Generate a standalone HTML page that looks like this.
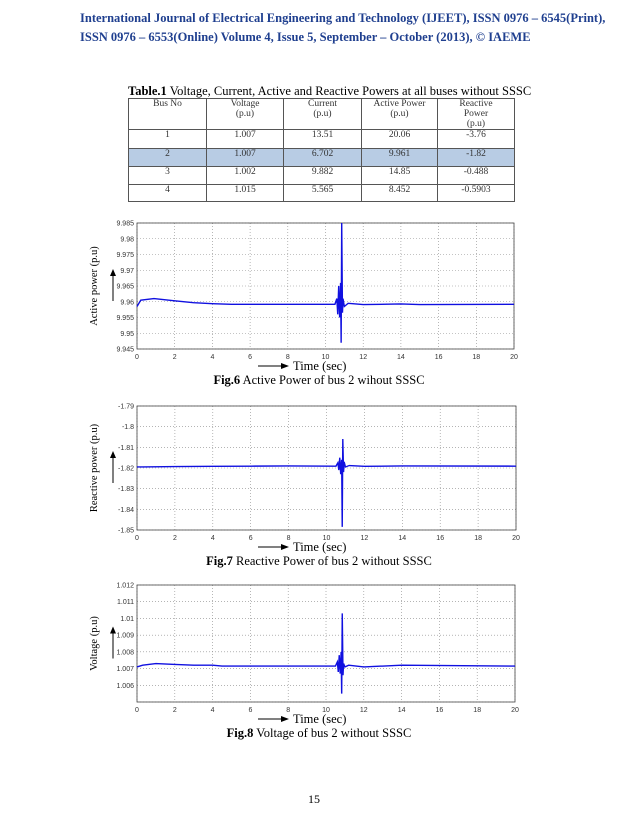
<!DOCTYPE html>
<html><head><meta charset="utf-8"><style>
body{margin:0;width:638px;height:826px;background:#fff;position:relative;overflow:hidden;font-family:"Liberation Serif",serif}
.hd{position:absolute;left:80px;color:#1f3f8f;font-weight:bold;font-size:12.5px;white-space:nowrap}
table{position:absolute;left:128px;top:98px;width:386px;border-collapse:collapse;font-size:9.5px;color:#333;table-layout:fixed}
td{border:1px solid #555;text-align:center;padding:0;line-height:10px;vertical-align:top}
</style></head><body>
<div class="hd" style="top:11px">International Journal of Electrical Engineering and Technology (IJEET), ISSN 0976 – 6545(Print),</div>
<div class="hd" style="top:30px">ISSN 0976 – 6553(Online) Volume 4, Issue 5, September – October (2013), © IAEME</div>
<div style="position:absolute;left:128px;top:84px;font-size:12.5px"><b>Table.1</b> Voltage, Current, Active and Reactive Powers at all buses without SSSC</div>
<table>
<colgroup><col style="width:78px"><col style="width:77px"><col style="width:78px"><col style="width:76px"><col style="width:77px"></colgroup>
<tr style="height:30px"><td>Bus No</td><td>Voltage<br>(p.u)</td><td>Current<br>(p.u)</td><td>Active Power<br>(p.u)</td><td>Reactive<br>Power<br>(p.u)</td></tr>
<tr style="height:19px"><td>1</td><td>1.007</td><td>13.51</td><td>20.06</td><td>-3.76</td></tr>
<tr style="height:18px;background:#b8cce4"><td>2</td><td>1.007</td><td>6.702</td><td>9.961</td><td>-1.82</td></tr>
<tr style="height:18px"><td>3</td><td>1.002</td><td>9.882</td><td>14.85</td><td>-0.488</td></tr>
<tr style="height:17px"><td>4</td><td>1.015</td><td>5.565</td><td>8.452</td><td>-0.5903</td></tr>
</table>
<svg id="svg" width="638" height="826" style="position:absolute;left:0;top:0"></svg>
<div style="position:absolute;left:308px;top:792px;font-size:12px">15</div>
<script>
const xTicks=[0,2,4,6,8,10,12,14,16,18,20];
const t1=[0,0.2,0.9,2,3,4,5,8,10.5,10.6,10.65,10.7,10.75,10.8,10.83,10.86,10.9,10.93,11,11.2,12,14,15,20];
const v1=[9.9585,9.9605,9.961,9.9603,9.9597,9.9594,9.9592,9.9592,9.9592,9.961,9.956,9.965,9.955,9.966,9.947,9.985,9.9565,9.961,9.9585,9.9595,9.9591,9.9593,9.9591,9.9592];
const yt1=[9.945,9.95,9.955,9.96,9.965,9.97,9.975,9.98,9.985];
const t2=[0,0.3,2,4,6,8,10.5,10.6,10.65,10.7,10.75,10.8,10.83,10.86,10.9,10.93,11,11.2,12,14,20];
const v2=[-1.8195,-1.8195,-1.8193,-1.8192,-1.8191,-1.819,-1.8191,-1.8175,-1.821,-1.815,-1.823,-1.816,-1.8485,-1.806,-1.822,-1.817,-1.8195,-1.8188,-1.8192,-1.819,-1.8191];
const yt2=[-1.85,-1.84,-1.83,-1.82,-1.81,-1.8,-1.79];
const t3=[0,0.3,1,2,3,4,4.5,8,10.5,10.6,10.65,10.7,10.75,10.8,10.83,10.86,10.9,10.93,11,11.2,12,14,20];
const v3=[1.0071,1.0072,1.0073,1.00725,1.0072,1.0072,1.00715,1.00715,1.00715,1.0074,1.0068,1.0078,1.0067,1.008,1.0055,1.0103,1.0066,1.0073,1.0071,1.0072,1.0071,1.0072,1.00715];
const yt3=[1.005,1.006,1.007,1.008,1.009,1.01,1.011,1.012];
const svg=document.getElementById('svg');const NS='http://www.w3.org/2000/svg';
function mk(tag,a,p){const e=document.createElementNS(NS,tag);for(const k in a)e.setAttribute(k,a[k]);(p||svg).appendChild(e);return e;}
function chart(id,L,R,T,B,ymin,ymax,yt,skipFirst,ts,vs,ytitle,fig,figrest,ttop){
 const g=mk('g',{});
 
 
 const X=x=>L+(x/20)*(R-L), Y=y=>B-(y-ymin)/(ymax-ymin)*(B-T);
 xTicks.forEach(x=>{mk('line',{x1:X(x),x2:X(x),y1:T,y2:B,stroke:'#888','stroke-width':0.6,'stroke-dasharray':'1,2'},g);
  const tx=mk('text',{x:X(x),y:B+10,'font-size':7,'text-anchor':'middle','font-family':'Liberation Sans',fill:'#333'},g);tx.textContent=x;});
 yt.forEach((y,i)=>{mk('line',{x1:L,x2:R,y1:Y(y),y2:Y(y),stroke:'#888','stroke-width':0.6,'stroke-dasharray':'1,2'},g);
  if(!(skipFirst&&i==0)){const tx=mk('text',{x:L-3,y:Y(y)+2.5,'font-size':7,'text-anchor':'end','font-family':'Liberation Sans',fill:'#333'},g);tx.textContent=y;}});
 mk('rect',{x:L,y:T,width:R-L,height:B-T,fill:'none',stroke:'#444','stroke-width':0.8},g);
 const line=mk('polyline',{points:ts.map((t,i)=>X(t)+','+Y(vs[i])).join(' '),fill:'none',stroke:'#1010e0','stroke-width':1.4},g);
 
 
 const my=(T+B)/2;
 const yl=mk('text',{x:0,y:0,'font-size':10.5,'text-anchor':'middle',transform:`translate(97,${my}) rotate(-90)`,'font-family':'Liberation Serif'},g);yl.textContent=ytitle;
 mk('line',{x1:113,x2:113,y1:my+15,y2:my-12,stroke:'#000','stroke-width':1},g);
 mk('polygon',{points:`110,${my-10} 116,${my-10} 113,${my-17}`,fill:'#000'},g);
 mk('line',{x1:258,x2:283,y1:ttop-4,y2:ttop-4,stroke:'#000','stroke-width':1},g);
 mk('polygon',{points:`281,${ttop-7} 281,${ttop-1} 289,${ttop-4}`,fill:'#000'},g);
 const tt=mk('text',{x:293,y:ttop,'font-size':12.5,'font-family':'Liberation Serif'},g);tt.textContent='Time (sec)';
 const fc=mk('text',{x:319,y:ttop+14,'font-size':12.5,'text-anchor':'middle','font-family':'Liberation Serif'},g);
 const b=mk('tspan',{'font-weight':'bold'},fc);b.textContent=fig;const r=mk('tspan',{},fc);r.textContent=figrest;
}
chart('active-power-chart',137,514,223,349,9.945,9.985,yt1,false,t1,v1,'Active power (p.u)','Fig.6',' Active Power of bus 2 wihout SSSC',370);
chart('reactive-power-chart',137,516,406,530,-1.85,-1.79,yt2,false,t2,v2,'Reactive power (p.u)','Fig.7',' Reactive Power of bus 2 without SSSC',551);
chart('voltage-chart',137,515,585,702,1.005,1.012,yt3,true,t3,v3,'Voltage (p.u)','Fig.8',' Voltage of bus 2 without SSSC',723);
</script>
</body></html>
